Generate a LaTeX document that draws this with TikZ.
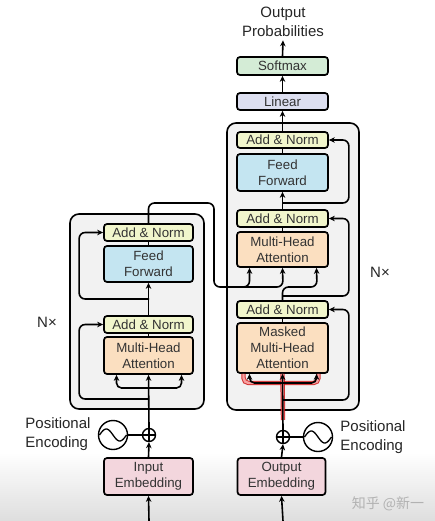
\documentclass[tikz,border=0pt]{standalone}
\usepackage{fontspec}
\setmainfont{Liberation Sans}
\newfontfamily\cjkfont{Noto Sans CJK SC}
\usetikzlibrary{arrows.meta, positioning}
\definecolor{normgreen}{RGB}{241,246,204}
\definecolor{ffblue}{RGB}{196,229,241}
\definecolor{attnorange}{RGB}{251,223,192}
\definecolor{embpink}{RGB}{243,214,221}
\definecolor{softgreen}{RGB}{212,236,214}
\definecolor{linpurple}{RGB}{221,223,240}
\definecolor{stackgray}{RGB}{242,242,242}

\begin{document}
\begin{tikzpicture}[x=1pt, y=-1pt,
    layer/.style={draw, line width=1.7pt, rounded corners=3pt, inner sep=0pt, minimum width=89pt, text=black!80, align=center, font=\fontsize{13.3}{16}\selectfont},
    stack/.style={draw, line width=1.6pt, rounded corners=9pt, fill=stackgray, inner sep=0pt},
    arr/.style={-{Stealth[length=6pt, width=5.5pt]}, line width=1.6pt},
    wire/.style={line width=1.6pt},
    glow/.style={draw=red!80!black, double=red!25, double distance=2.4pt, line width=1pt, opacity=0.8},
    label/.style={text=black!85, align=left, font=\fontsize{15}{18.5}\selectfont}]
    \useasboundingbox (0,0) rectangle (435,521);
    \fill[white] (0,0) rectangle (435,521);
    \shade[top color=white, bottom color=black!13] (0,452) rectangle (435,521);

    % Stacks
    \node[stack, minimum width=134pt, minimum height=195pt] (encoder) at (137,311.5) {};
    \node[stack, minimum width=132pt, minimum height=287pt] (decoder) at (293,266.5) {};
    \node[label] at (47,322) {N×};
    \node[label] at (380,272) {N×};

    % Encoder
    \node[layer, fill=embpink, minimum height=37pt] (inemb) at (148.5,476.5) {Input\\Embedding};
    \node[draw, circle, line width=1.4pt, minimum size=13pt, inner sep=0pt] (encplus) at (149,435) {};
    \node[draw, circle, line width=1.4pt, minimum size=29pt, inner sep=0pt] (encpe) at (113,435) {};
    \node[label] (encpetext) at (58,434) {Positional\\Encoding};
    \node[layer, fill=attnorange, minimum height=37pt] (encmha) at (148.5,355.5) {Multi-Head\\Attention};
    \node[layer, fill=normgreen, minimum height=17pt] (encan1) at (148.5,324.5) {Add \& Norm};
    \node[layer, fill=ffblue, minimum height=36pt] (encff) at (148.5,264) {Feed\\Forward};
    \node[layer, fill=normgreen, minimum height=17pt] (encan2) at (148.5,232.5) {Add \& Norm};

    % Decoder
    \node[layer, fill=embpink, minimum width=88pt, minimum height=37pt] (outemb) at (281.5,476.5) {Output\\Embedding};
    \node[draw, circle, line width=1.4pt, minimum size=13pt, inner sep=0pt] (decplus) at (283,437) {};
    \node[draw, circle, line width=1.4pt, minimum size=29pt, inner sep=0pt] (decpe) at (318,437) {};
    \node[label] (decpetext) at (373,437) {Positional\\Encoding};
    \node[layer, fill=attnorange, minimum width=91pt, minimum height=50pt] (decmmha) at (282.5,348) {Masked\\Multi-Head\\Attention};
    \node[layer, fill=normgreen, minimum width=91pt, minimum height=17pt] (decan1) at (282.5,309.5) {Add \& Norm};
    \node[layer, fill=attnorange, minimum width=91pt, minimum height=35pt] (decmha) at (282.5,249.5) {Multi-Head\\Attention};
    \node[layer, fill=normgreen, minimum width=91pt, minimum height=17pt] (decan2) at (282.5,218.5) {Add \& Norm};
    \node[layer, fill=ffblue, minimum width=91pt, minimum height=37pt] (decff) at (282.5,172.5) {Feed\\Forward};
    \node[layer, fill=normgreen, minimum width=91pt, minimum height=16pt] (decan3) at (282.5,140) {Add \& Norm};
    \node[layer, fill=linpurple, minimum width=91pt, minimum height=17pt] (linear) at (282.5,101.5) {Linear};
    \node[layer, fill=softgreen, minimum width=91pt, minimum height=18pt] (softmax) at (282.5,66) {Softmax};
    \node[label, align=center, font=\fontsize{15}{19}\selectfont] (outprob) at (283,22) {Output\\Probabilities};

    % Branch points
    \coordinate (encin) at (149,521);
    \coordinate (encsplit) at (149,388);
    \coordinate (encres1) at (149,399);
    \coordinate (encres2) at (149,299);
    \coordinate (encturn) at (214,203);
    \coordinate (kvturn) at (283,287);
    \coordinate (kvfork) at (235,287);
    \coordinate (qturn) at (317,287);
    \coordinate (decin) at (283,521);
    \coordinate (decsplit) at (283,383);
    \coordinate (decres1) at (283,400);
    \coordinate (decres2) at (283,296);
    \coordinate (decres3) at (283,203);
    \coordinate (redend) at (283,420);

    % Encoder wiring
    \draw[arr] (encin) -- (inemb.south);
    \draw[arr] (inemb.north) -- (encplus.south);
    \draw[wire] (encpe.east) -- (encplus.west);
    \draw[line width=1.2pt] (encplus.north) -- (encplus.south) (encplus.west) -- (encplus.east);
    \draw[arr] (encplus.north) -- (encmha.south);
    \draw[arr, rounded corners=5pt] (encsplit) -| ([xshift=-32pt]encmha.south);
    \draw[arr, rounded corners=5pt] (encsplit) -| ([xshift=33pt]encmha.south);
    \draw[arr, rounded corners=6pt] (encres1) -| ([xshift=-24pt]encan1.west) -- (encan1.west);
    \draw[wire] (encmha.north) -- (encan1.south);
    \draw[arr] (encan1.north) -- (encff.south);
    \draw[arr, rounded corners=6pt] (encres2) -| ([xshift=-24pt]encan2.west) -- (encan2.west);
    \draw[wire] (encff.north) -- (encan2.south);
    \draw[arr, rounded corners=6pt] (encan2.north) |- (encturn) |- (kvturn) -- (decmha.south);
    \draw[arr, rounded corners=6pt] (kvfork) -| ([xshift=-33pt]decmha.south);

    % Decoder wiring
    \draw[glow, rounded corners=5pt] ([xshift=-39pt]decmmha.south) |- (decsplit) -| ([xshift=36pt]decmmha.south);
    \draw[glow] (decmmha.south) -- (redend);
    \draw[arr] (decin) -- (outemb.south);
    \draw[arr] (outemb.north) -- (decplus.south);
    \draw[wire] (decpe.west) -- (decplus.east);
    \draw[line width=1.2pt] (decplus.north) -- (decplus.south) (decplus.west) -- (decplus.east);
    \draw[arr] (decplus.north) -- (decmmha.south);
    \draw[arr, rounded corners=5pt] (decsplit) -| ([xshift=-33pt]decmmha.south);
    \draw[arr, rounded corners=5pt] (decsplit) -| ([xshift=34pt]decmmha.south);
    \draw[arr, rounded corners=6pt] (decres1) -| ([xshift=20pt]decan1.east) -- (decan1.east);
    \draw[wire] (decmmha.north) -- (decan1.south);
    \draw[arr, rounded corners=6pt] (decan1.north) |- (qturn) -- ([xshift=34pt]decmha.south);
    \draw[arr, rounded corners=6pt] (decres2) -| ([xshift=20pt]decan2.east) -- (decan2.east);
    \draw[wire] (decmha.north) -- (decan2.south);
    \draw[arr] (decan2.north) -- (decff.south);
    \draw[arr, rounded corners=6pt] (decres3) -| ([xshift=20pt]decan3.east) -- (decan3.east);
    \draw[wire] (decff.north) -- (decan3.south);
    \draw[arr] (decan3.north) -- (linear.south);
    \draw[arr] (linear.north) -- (softmax.south);
    \draw[arr] (softmax.north) -- (outprob.south);

    % Positional encoding waves
    \draw[line width=1.3pt, shift={(encpe.center)}] plot[domain=-13.5:13.5, samples=40, smooth] (\x, {6*sin(\x*180/13.5)});
    \draw[line width=1.3pt, shift={(decpe.center)}] plot[domain=-13.5:13.5, samples=40, smooth] (\x, {6*sin(\x*180/13.5)});

    % Watermark
    \node[text=black!30, font=\cjkfont\fontsize{14}{16}\selectfont] (mark) at (388,504) {知乎 @新一};
\end{tikzpicture}
\end{document}
